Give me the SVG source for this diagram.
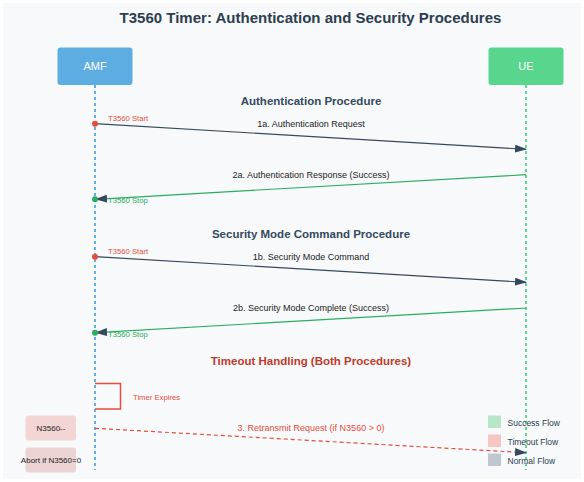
<svg xmlns="http://www.w3.org/2000/svg" width="584" height="482" viewBox="0 0 584 482">
<defs>
<marker id="arr" markerWidth="12" markerHeight="8" refX="11" refY="4" orient="auto" markerUnits="userSpaceOnUse">
<path d="M0,0 L12,4 L0,8 Z" fill="#34495e"/>
</marker>
<style>
text{font-family:"Liberation Sans",Arial,sans-serif}
.title{font-size:15px;font-weight:bold;fill:#2c3e50;text-anchor:middle}
.sec{font-size:11.5px;font-weight:bold;fill:#34495e;text-anchor:middle}
.lbl{font-size:9px;fill:#222;text-anchor:middle}
.small{font-size:7.7px}
.node{font-size:11px;fill:#fff;text-anchor:middle}
.life{stroke-width:1.5;stroke-dasharray:3,3;fill:none}
.msg{stroke-width:1.2;fill:none;marker-end:url(#arr)}
.leg{font-size:8.5px;fill:#2c3e50}
.note{font-size:8px;fill:#222;text-anchor:middle}
</style>
</defs>
<rect x="3" y="3" width="578" height="476" fill="#f8f9fa"/>
<text class="title" x="310.5" y="22.5">T3560 Timer: Authentication and Security Procedures</text>

<g id="AMF">
<rect x="57.5" y="47.5" width="75" height="37.5" rx="3" fill="#5dade2"/>
<text class="node" x="95" y="70">AMF</text>
</g>
<g id="UE">
<rect x="488.5" y="47.5" width="75" height="37.5" rx="3" fill="#58d68d"/>
<text class="node" x="526" y="70">UE</text>
</g>

<g id="lifelines">
<line class="life" x1="95" y1="85" x2="95" y2="470" stroke="#3498db"/>
<line class="life" x1="526" y1="85" x2="526" y2="470" stroke="#2ecc71"/>
</g>

<g id="sections">
<text class="sec" x="311" y="105">Authentication Procedure</text>
<text class="sec" x="311" y="238">Security Mode Command Procedure</text>
<text class="sec" x="311" y="365" style="fill:#c0392b">Timeout Handling (Both Procedures)</text>
</g>

<g id="connectors">
<line class="msg" x1="95" y1="123.7" x2="526" y2="149.3" stroke="#34495e"/>
<text class="lbl" x="311" y="127">1a. Authentication Request</text>
<line class="msg" x1="526" y1="174.7" x2="96" y2="199.3" stroke="#27ae60"/>
<text class="lbl" x="311" y="177.5">2a. Authentication Response (Success)</text>
<line class="msg" x1="95" y1="256.7" x2="526" y2="282.3" stroke="#34495e"/>
<text class="lbl" x="311" y="260">1b. Security Mode Command</text>
<line class="msg" x1="526" y1="308" x2="96" y2="332.7" stroke="#27ae60"/>
<text class="lbl" x="311" y="311">2b. Security Mode Complete (Success)</text>
<path d="M95,383.5 H120.5 V409 H95" fill="none" stroke="#e74c3c" stroke-width="1.5"/>
<line class="msg" x1="95" y1="428.3" x2="526" y2="452.7" stroke="#e74c3c" stroke-dasharray="4,3"/>
<text class="lbl" x="311" y="431" style="fill:#e74c3c">3. Retransmit Request (if N3560 &gt; 0)</text>
</g>

<g id="timer-marks">
<circle cx="95" cy="123.7" r="3" fill="#e74c3c"/>
<text class="small" x="108" y="120.5" fill="#e74c3c">T3560 Start</text>
<circle cx="95" cy="199.3" r="3" fill="#27ae60"/>
<text class="small" x="108" y="203" fill="#27ae60">T3560 Stop</text>
<circle cx="95" cy="256.7" r="3" fill="#e74c3c"/>
<text class="small" x="108" y="254" fill="#e74c3c">T3560 Start</text>
<circle cx="95" cy="332.7" r="3" fill="#27ae60"/>
<text class="small" x="108" y="336.5" fill="#27ae60">T3560 Stop</text>
<text class="small" x="133" y="400" fill="#e74c3c">Timer Expires</text>
</g>

<g id="N3560-dec">
<rect x="25.5" y="415.5" width="50.5" height="25" rx="3" fill="#f3d5d4"/>
<text class="note" x="51" y="431">N3560--</text>
</g>
<g id="abort">
<rect x="25.5" y="447.5" width="50.5" height="25" rx="3" fill="#ecd4d4"/>
<text class="note" x="51" y="463">Abort if N3560=0</text>
</g>

<g id="legend">
<rect x="488" y="415.5" width="13" height="12.5" fill="#b8e6cb"/>
<text class="leg" x="507.5" y="425.5">Success Flow</text>
<rect x="488" y="434.5" width="13" height="12.5" fill="#f5c6c2"/>
<text class="leg" x="507.5" y="444.5">Timeout Flow</text>
<rect x="488" y="453.5" width="13" height="12.5" fill="#c1c7ce"/>
<text class="leg" x="507.5" y="463.5">Normal Flow</text>
</g>
</svg>
